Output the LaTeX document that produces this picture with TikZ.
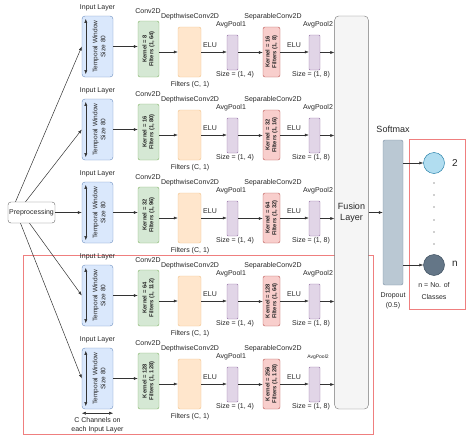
\documentclass[tikz,border=0pt]{standalone}
\usepackage{fontspec}
\setmainfont{Liberation Sans}
\usetikzlibrary{arrows.meta}
\definecolor{infill}{HTML}{DAE8FC}\definecolor{inline}{HTML}{6C8EBF}
\definecolor{cvfill}{HTML}{D5E8D4}\definecolor{cvline}{HTML}{82B366}
\definecolor{dwfill}{HTML}{FFE6CC}\definecolor{dwline}{HTML}{F0C28A}
\definecolor{apfill}{HTML}{E1D5E7}\definecolor{apline}{HTML}{9673A6}
\definecolor{scfill}{HTML}{F8CECC}\definecolor{scline}{HTML}{B85450}
\definecolor{dofill}{HTML}{BAC8D3}\definecolor{doline}{HTML}{7A8EA3}
\definecolor{o2fill}{HTML}{B1DDF0}\definecolor{o2line}{HTML}{10739E}
\definecolor{onfill}{HTML}{647687}\definecolor{online}{HTML}{314354}
\definecolor{grpline}{HTML}{EF7F7F}
\begin{document}
\begin{tikzpicture}[x=1pt,y=-1pt,font=\fontsize{7}{8}\selectfont,text=black!85,
  >={Latex[length=4pt,width=3pt]},
  conn/.style={->,draw=black!80,line width=.5pt},
  inbox/.style={draw=inline,fill=infill,rounded corners=3pt,minimum width=31pt,minimum height=61pt,inner sep=0pt},
  cvbox/.style={draw=cvline,fill=cvfill,rounded corners=2pt,minimum width=21pt,minimum height=56pt,inner sep=0pt},
  dwbox/.style={draw=dwline,fill=dwfill,rounded corners=2pt,minimum width=23pt,minimum height=50pt,inner sep=0pt},
  apbox/.style={draw=apline,fill=apfill,rounded corners=1pt,minimum width=11pt,minimum height=35pt,inner sep=0pt},
  scbox/.style={draw=scline,fill=scfill,rounded corners=2pt,minimum width=17pt,minimum height=50pt,inner sep=0pt},
  rotxt/.style={rotate=90,align=center,inner sep=0pt,font=\fontsize{6.5}{8}\selectfont},
  bxtxt/.style={rotate=90,align=center,inner sep=0pt,font=\bfseries\fontsize{5.8}{6.8}\selectfont},
  grpbox/.style={draw=grpline,line width=.9pt}]
\useasboundingbox (0,0) rectangle (474,439);
% group of the last two rows
\draw[grpbox] (23,255) rectangle (373,434);
\node[draw=black!55,fill=black!4,rounded corners=4pt,minimum width=31pt,minimum height=393pt,align=center,font=\fontsize{9}{11}\selectfont] (fu) at (351.5,212.5) {Fusion\\Layer};
\node[draw=black!60,rounded corners=3pt,minimum width=47pt,minimum height=21pt,inner sep=0pt] (pre) at (31.5,212.5) {Preprocessing};
\foreach \i/\ka/\fa/\kb/\fb in {1/8/64/16/8,2/16/80/32/16,3/32/96/64/32,4/64/112/128/64,5/128/128/256/128}{
  \pgfmathsetmacro\r{52+83*(\i-1)}
  \ifnum\i=5 \def\apfont{\fontsize{5}{6}\selectfont}\else\def\apfont{\fontsize{7}{8}\selectfont}\fi
  \node[inbox] (in\i) at (97.5,\r-5.5) {};
  \node[rotxt] (int\i) at (99,\r-5.5) {Temporal Window\\Size 80};
  \draw[<->,draw=black!80,line width=.5pt] ([xshift=4pt,yshift=-3pt]in\i.north west) -- ([xshift=4pt,yshift=3pt]in\i.south west);
  \node (lin\i) at (97.5,\r-44) {Input Layer};
  \node[cvbox] (cv\i) at (148.5,\r-3) {};
  \node[bxtxt] (cvt\i) at (cv\i) {Kernel = \ka\\Filters (1, \fa)};
  \node (lcv\i) at (148,\r-41) {Conv2D};
  \node[dwbox] (dw\i) at (189.5,\r) {};
  \node (ldw\i) at (190,\r-35) {DepthwiseConv2D};
  \node (fdw\i) at (190,\r+33) {Filters (C, 1)};
  \node[apbox] (ap\i) at (232.5,\r+.5) {};
  \node (lap\i) at (231,\r-27) {AvgPool1};
  \node (sap\i) at (235,\r+23) {Size = (1, 4)};
  \node (ea\i) at (210,\r-7) {ELU};
  \node[scbox] (sc\i) at (271.5,\r) {};
  \node[bxtxt] (sct\i) at (sc\i) {Kernel = \kb\\Filters (1, \fb)};
  \node (lsc\i) at (273,\r-35) {SeparableConv2D};
  \node (eb\i) at (294,\r-7) {ELU};
  \node[apbox] (bp\i) at (314.5,\r+.5) {};
  \node[font=\apfont] (lbp\i) at (318,\r-27) {AvgPool2};
  \node (sbp\i) at (311,\r+23) {Size = (1, 8)};
  \draw[conn] (in\i.east) -- (in\i.east -| cv\i.west);
  \draw[conn] (dw\i.west -| cv\i.east) -- (dw\i.west);
  \draw[conn] (dw\i.east) -- (dw\i.east -| ap\i.west);
  \draw[conn] (ap\i.east) -- (ap\i.east -| sc\i.west);
  \draw[conn] (sc\i.east) -- (sc\i.east -| bp\i.west);
  \draw[conn] (bp\i.east) -- (bp\i.east -| fu.west);
}
% fan out from preprocessing
\draw[conn] ([xshift=-16pt]pre.north) -- (in1.west);
\draw[conn] ([xshift=-6pt]pre.north) -- (in2.west);
\draw[conn] (pre.east) -- (in3.west);
\draw[conn] ([xshift=-2pt]pre.south) -- (in4.west);
\draw[conn] ([xshift=-11pt]pre.south) -- (in5.west);
\draw[<->,draw=black!80,line width=.5pt] ([yshift=-4pt]in5.south west) -- ([yshift=-4pt]in5.south east);
\node[align=center,font=\fontsize{7}{9}\selectfont] (cch) at (97.5,425.5) {C Channels on\\each Input Layer};
% softmax part
\node[draw=doline,fill=dofill,rounded corners=2pt,minimum width=20pt,minimum height=145pt,inner sep=0pt] (do) at (393,212.5) {};
\node[font=\fontsize{9}{11}\selectfont] (ldo) at (393,129) {Softmax};
\node[align=center,font=\fontsize{7}{10}\selectfont] (tdo) at (393,301) {Dropout\\(0.5)};
\draw[conn] (fu.east) -- (do.west);
\draw[grpbox] (409,139) rectangle (465,309);
\node[circle,draw=o2line,fill=o2fill,minimum size=21pt,inner sep=0pt] (o2) at (434,163) {};
\node[circle,draw=online,fill=onfill,minimum size=21pt,inner sep=0pt] (on) at (434,265) {};
\draw[conn] (do.east |- o2) -- (o2.west);
\draw[conn] (do.east |- on) -- (on.west);
\node[font=\fontsize{10}{12}\selectfont] (lo2) at (455,163) {2};
\node[font=\fontsize{10}{12}\selectfont] (lon) at (455,264) {n};
\foreach \y in {183,195,207,220,232,244} \fill[black!80] (434,\y) circle (.7pt);
\node[align=center,font=\fontsize{7}{12}\selectfont] (ncl) at (434,291) {n = No. of\\Classes};
\end{tikzpicture}
\end{document}
